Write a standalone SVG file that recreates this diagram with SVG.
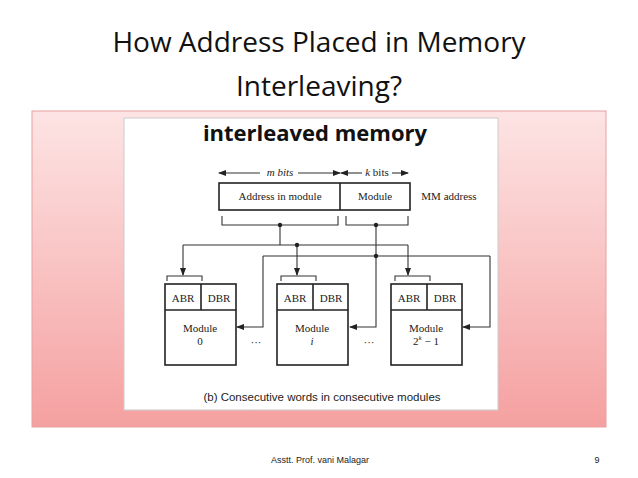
<svg xmlns="http://www.w3.org/2000/svg" width="638" height="478" viewBox="0 0 638 478">
<defs>
<linearGradient id="pk" x1="0" y1="0" x2="0" y2="1"><stop offset="0" stop-color="#fde4e4"/><stop offset="1" stop-color="#f5a0a0"/></linearGradient>
<marker id="ah" markerWidth="8" markerHeight="6" refX="7" refY="3" orient="auto" markerUnits="userSpaceOnUse"><path d="M0,0L8,3L0,6z" fill="#222"/></marker>
</defs>
<style>
.t{font-family:"Liberation Sans",Arial,sans-serif;fill:#222}
.o{font-family:"Open Sans","Liberation Sans",sans-serif;fill:#111}
.s{font-family:"Liberation Serif","Times New Roman",serif;fill:#222;font-size:11px;text-anchor:middle}
.b{fill:none;stroke:#222;stroke-width:1.6}
.l{fill:none;stroke:#333;stroke-width:1.1}
.a{fill:none;stroke:#333;stroke-width:1.1;marker-end:url(#ah)}
</style>
<rect width="638" height="478" fill="#fff"/>
<text class="o" x="319" y="52" font-size="28" text-anchor="middle">How Address Placed in Memory</text>
<text class="o" x="319" y="96" font-size="28" text-anchor="middle">Interleaving?</text>
<rect x="32" y="111" width="574" height="316" fill="url(#pk)" stroke="#e8a0a0"/>
<rect x="124" y="118" width="374" height="292" fill="#fff" stroke="#ccc"/>
<text class="o" x="315" y="141" font-size="22" font-weight="bold" text-anchor="middle">interleaved memory</text>
<g id="bits">
<line class="a" x1="260" y1="173" x2="219" y2="173"/><line class="a" x1="298" y1="173" x2="340" y2="173"/>
<text class="s" x="280" y="176" font-style="italic">m bits</text>
<line class="a" x1="362" y1="173" x2="341" y2="173"/><line class="a" x1="392" y1="173" x2="408" y2="173"/>
<text class="s" x="377" y="176"><tspan font-style="italic">k</tspan> bits</text>
</g>
<g id="addr">
<rect class="b" x="219" y="183" width="191" height="27"/><line class="b" x1="340" y1="183" x2="340" y2="210"/>
<text class="s" x="280" y="200">Address in module</text>
<text class="s" x="375" y="200">Module</text>
<text class="s" x="449" y="200">MM address</text>
</g>
<g id="connectors">
<path class="l" d="M222,216V225H338V216M346,216V225H408V216"/>
<path class="l" d="M280,225V245M183,245H408M376,225V256M263,256H490"/>
<path class="a" d="M183,245V275"/><path class="a" d="M297,245V275"/><path class="a" d="M408,245V275"/>
<path class="a" d="M263,256V327H237"/><path class="a" d="M376,256V327H350"/><path class="a" d="M490,256V327H463"/>
<circle cx="280" cy="225" r="2.2" fill="#222"/><circle cx="376" cy="225" r="2.2" fill="#222"/>
<circle cx="297" cy="245" r="2.2" fill="#222"/><circle cx="376" cy="256" r="2.2" fill="#222"/>
<path class="l" d="M167,281V276H202V281M281,281V276H316V281M395,281V276H430V281"/>
</g>
<g id="m0"><rect class="b" x="165" y="284" width="71" height="81"/><line class="b" x1="165" y1="310" x2="236" y2="310"/><line class="b" x1="201" y1="284" x2="201" y2="310"/>
<text class="s" x="183" y="302">ABR</text><text class="s" x="219" y="302">DBR</text><text class="s" x="200" y="332">Module</text><text class="s" x="200" y="345">0</text></g>
<g id="mi"><rect class="b" x="277" y="284" width="71" height="81"/><line class="b" x1="277" y1="310" x2="348" y2="310"/><line class="b" x1="313" y1="284" x2="313" y2="310"/>
<text class="s" x="295" y="302">ABR</text><text class="s" x="331" y="302">DBR</text><text class="s" x="312" y="332">Module</text><text class="s" x="312" y="345" font-style="italic">i</text></g>
<g id="mk"><rect class="b" x="391" y="284" width="71" height="81"/><line class="b" x1="391" y1="310" x2="462" y2="310"/><line class="b" x1="427" y1="284" x2="427" y2="310"/>
<text class="s" x="409" y="302">ABR</text><text class="s" x="445" y="302">DBR</text><text class="s" x="426" y="332">Module</text><text class="s" x="426" y="345">2<tspan dy="-5" font-size="7" font-style="italic">k</tspan><tspan dy="5"> − 1</tspan></text></g>
<text class="s" x="256" y="346">···</text><text class="s" x="369" y="346">···</text>
<text class="t" x="322" y="401" font-size="11.5" text-anchor="middle">(b) Consecutive words in consecutive modules</text>
<text class="t" x="320" y="463" font-size="9" text-anchor="middle" fill="#555">Asstt. Prof. vani Malagar</text>
<text class="t" x="597" y="463" font-size="9" text-anchor="middle" fill="#555">9</text>
</svg>
